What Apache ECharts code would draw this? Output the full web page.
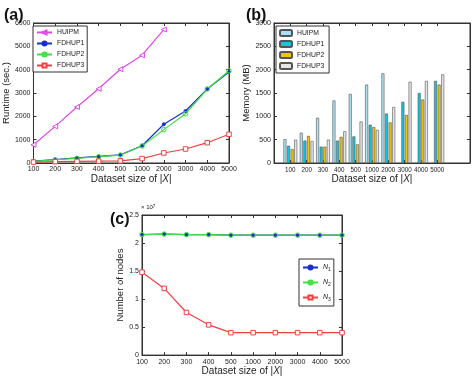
<!DOCTYPE html>
<html>
<head>
<meta charset="utf-8">
<script src="https://cdn.jsdelivr.net/npm/echarts@6/dist/echarts.min.js"></script>
<style>
  html, body { margin: 0; padding: 0; background: #fff; }
  #chart-container { width: 474px; height: 377px; }
</style>
</head>
<body>
<div id="chart-container"></div>
<script>
// dataset sizes |X|
var sizes = ['100', '200', '300', '400', '500', '1000', '2000', '3000', '4000', '5000'];

// (a) runtime in seconds
var runHUIPM = [780, 1570, 2400, 3180, 4020, 4620, 5720];
var runFDHUP1 = [80, 150, 220, 280, 350, 740, 1660, 2230, 3170, 3900];
var runFDHUP2 = [70, 140, 200, 270, 340, 730, 1430, 2110, 3170, 3950];
var runFDHUP3 = [40, 60, 70, 80, 90, 190, 430, 600, 870, 1230];

// (b) memory in MB
var memHUIPM = [510, 650, 970, 1340, 1480, 1680, 1920, null, null, null];
var memFDHUP1 = [370, 480, 350, 480, 570, 820, 1060, 1310, 1500, 1760];
var memFDHUP2 = [300, 580, 350, 560, 400, 770, 870, 1030, 1360, 1680];
var memFDHUP3 = [500, 470, 500, 680, 890, 710, 1200, 1740, 1760, 1900];

// (c) number of nodes
var nodesN1 = [21500000, 21600000, 21500000, 21500000, 21400000, 21400000, 21400000, 21400000, 21400000, 21400000];
var nodesN2 = [21500000, 21600000, 21500000, 21500000, 21400000, 21400000, 21400000, 21400000, 21400000, 21400000];
var nodesN3 = [14800000, 11900000, 7600000, 5400000, 4000000, 4000000, 4000000, 4000000, 4000000, 4000000];

var dom = document.getElementById('chart-container');
var myChart = echarts.init(dom, null, { renderer: 'canvas' });

var FONT = 'Liberation Sans';
var AX = '#333';

// bar chart x axis runs 0..12 with sizes at 1..10
var padded = [''].concat(sizes, ['', '']);
function pad(arr) { return [null].concat(arr, [null, null]); }

var xName = {
  name: 'Dataset size of |{i|X}|',
  nameLocation: 'middle',
  nameTextStyle: {
    fontFamily: FONT, fontSize: 10, color: '#222',
    rich: { i: { fontStyle: 'italic', fontFamily: FONT, fontSize: 10, color: '#222' } }
  }
};

function catAxis(grid, data, pos, labels, extra) {
  var ax = {
    type: 'category', gridIndex: grid, data: data, position: pos,
    boundaryGap: false,
    axisLine: { onZero: false, lineStyle: { color: AX, width: 1 } },
    axisTick: { show: true, inside: true, length: 3, interval: 0, lineStyle: { color: AX } },
    axisLabel: { show: labels, interval: 0, fontFamily: FONT, fontSize: 7, color: '#222', margin: 3 },
    splitLine: { show: false }
  };
  return Object.assign(ax, extra || {});
}

function valAxis(grid, max, step, pos, labels, extra) {
  var ax = {
    type: 'value', gridIndex: grid, min: 0, max: max, interval: step, position: pos,
    axisLine: { show: true, onZero: false, lineStyle: { color: AX, width: 1 } },
    axisTick: { show: true, inside: true, length: 3, lineStyle: { color: AX } },
    axisLabel: { show: labels, fontFamily: FONT, fontSize: 7, color: '#222', margin: 3,
      formatter: function (v) { return String(v); } },
    splitLine: { show: false }
  };
  return Object.assign(ax, extra || {});
}

var yNameStyle = { fontFamily: FONT, fontSize: 9.5, color: '#222' };

function lineSeries(name, xi, yi, data, color, symbol, size, fill, extra) {
  return Object.assign({
    name: name, type: 'line', xAxisIndex: xi, yAxisIndex: yi, data: data,
    symbol: symbol, symbolSize: size,
    lineStyle: { color: color, width: 1.2 },
    itemStyle: { color: fill, borderColor: color, borderWidth: 1 },
    animation: false
  }, extra || {});
}

function barSeries(name, data, color) {
  return {
    name: name, type: 'bar', xAxisIndex: 2, yAxisIndex: 2, data: pad(data),
    barWidth: 3, barGap: '20%',
    itemStyle: { color: color, borderColor: '#555', borderWidth: 0.6 },
    animation: false
  };
}

var legendBase = {
  orient: 'vertical',
  borderColor: '#333', borderWidth: 1, backgroundColor: '#fff',
  padding: [3, 3], itemGap: 3,
  textStyle: { fontFamily: FONT, fontSize: 6.8, color: '#222' }
};

var option = {
  backgroundColor: '#fff',
  animation: false,
  textStyle: { fontFamily: FONT },
  grid: [
    { left: 28, top: 23, width: 201, height: 140, show: true, borderColor: AX, borderWidth: 1 },
    { left: 274, top: 23, width: 196, height: 140, show: true, borderColor: AX, borderWidth: 1 },
    { left: 142, top: 215, width: 200, height: 141, show: true, borderColor: AX, borderWidth: 1 }
  ],
  graphic: [
    { type: 'text', left: 4, top: 8, style: { text: '(a)', font: 'bold 16px ' + FONT, fill: '#111' } },
    { type: 'text', left: 246, top: 8, style: { text: '(b)', font: 'bold 16px ' + FONT, fill: '#111' } },
    { type: 'text', left: 110, top: 212, style: { text: '(c)', font: 'bold 16px ' + FONT, fill: '#111' } },
    {
      type: 'text', left: 141, top: 204,
      style: {
        text: '× 10{s|7}', font: '6px ' + FONT, fill: '#222',
        rich: { s: { fontSize: 4.5, verticalAlign: 'top', fill: '#222' } }
      }
    }
  ],
  legend: [
    Object.assign({}, legendBase, {
      left: 33, top: 26, itemWidth: 15, itemHeight: 5, itemGap: 4,
      data: ['HUIPM', 'FDHUP1', 'FDHUP2', 'FDHUP3']
    }),
    Object.assign({}, legendBase, {
      left: 276, top: 26, itemWidth: 12, itemHeight: 6, itemGap: 3,
      data: ['HUIPM ', 'FDHUP1 ', 'FDHUP2 ', 'FDHUP3 ']
    }),
    Object.assign({}, legendBase, {
      left: 299, top: 259, itemWidth: 15, itemHeight: 5, itemGap: 7,
      padding: [5, 3, 4, 3],
      data: ['N1', 'N2', 'N3'],
      formatter: function (n) { return '{i|N}{s|' + n.slice(1) + '}'; },
      textStyle: {
        fontFamily: FONT, fontSize: 7, color: '#222',
        rich: {
          i: { fontStyle: 'italic', fontSize: 7, color: '#222' },
          s: { fontSize: 5, verticalAlign: 'bottom', color: '#222', padding: [4, 0, 0, 0] }
        }
      }
    })
  ],
  xAxis: [
    Object.assign(catAxis(0, sizes, 'bottom', true), xName, { nameGap: 10 }),
    catAxis(0, sizes, 'top', false),
    Object.assign(catAxis(1, padded, 'bottom', true, {
      axisTick: { show: true, inside: true, length: 3, lineStyle: { color: AX },
        interval: function (i, v) { return v !== ''; } },
      axisLabel: { show: true, interval: 0, fontFamily: FONT, fontSize: 6.3, color: '#222', margin: 4 }
    }), xName, { nameGap: 10 }),
    catAxis(1, padded, 'top', false, {
      axisTick: { show: true, inside: true, length: 3, lineStyle: { color: AX },
        interval: function (i, v) { return v !== ''; } }
    }),
    Object.assign(catAxis(2, sizes, 'bottom', true), xName, { nameGap: 9 }),
    catAxis(2, sizes, 'top', false)
  ],
  yAxis: [
    valAxis(0, 6000, 1000, 'left', true, {
      name: 'Runtime (sec.)', nameLocation: 'middle', nameGap: 19, nameTextStyle: yNameStyle
    }),
    valAxis(0, 6000, 1000, 'right', false),
    valAxis(1, 3000, 500, 'left', true, {
      name: 'Memory (MB)', nameLocation: 'middle', nameGap: 19, nameTextStyle: yNameStyle
    }),
    valAxis(1, 3000, 500, 'right', false),
    valAxis(2, 25000000, 5000000, 'left', true, {
      name: 'Number of nodes', nameLocation: 'middle', nameGap: 15, nameTextStyle: yNameStyle,
      axisLabel: { show: true, fontFamily: FONT, fontSize: 7, color: '#222', margin: 3,
        formatter: function (v) { return String(v / 10000000); } }
    }),
    valAxis(2, 25000000, 5000000, 'right', false)
  ],
  series: [
    lineSeries('HUIPM', 0, 0, runHUIPM, '#e048e8', 'triangle', 5, '#fff', { symbolRotate: 90 }),
    lineSeries('FDHUP1', 0, 0, runFDHUP1, '#1a2fd0', 'circle', 3, '#1a2fd0'),
    lineSeries('FDHUP2', 0, 0, runFDHUP2, '#3ee03e', 'circle', 4.5, 'rgba(255,255,255,0)'),
    lineSeries('FDHUP3', 0, 0, runFDHUP3, '#f04040', 'rect', 4.5, '#fff'),

    barSeries('HUIPM ', memHUIPM, '#a6e2f2'),
    barSeries('FDHUP1 ', memFDHUP1, '#12c6dc'),
    barSeries('FDHUP2 ', memFDHUP2, '#f2c40a'),
    barSeries('FDHUP3 ', memFDHUP3, '#e6e6e6'),

    lineSeries('N1', 4, 4, nodesN1, '#1a2fd0', 'circle', 3, '#1a2fd0'),
    lineSeries('N2', 4, 4, nodesN2, '#3ee03e', 'circle', 4.5, 'rgba(255,255,255,0)'),
    lineSeries('N3', 4, 4, nodesN3, '#f04040', 'rect', 4.5, '#fff')
  ]
};

myChart.setOption(option);
window.addEventListener('resize', myChart.resize);
</script>
</body>
</html>
